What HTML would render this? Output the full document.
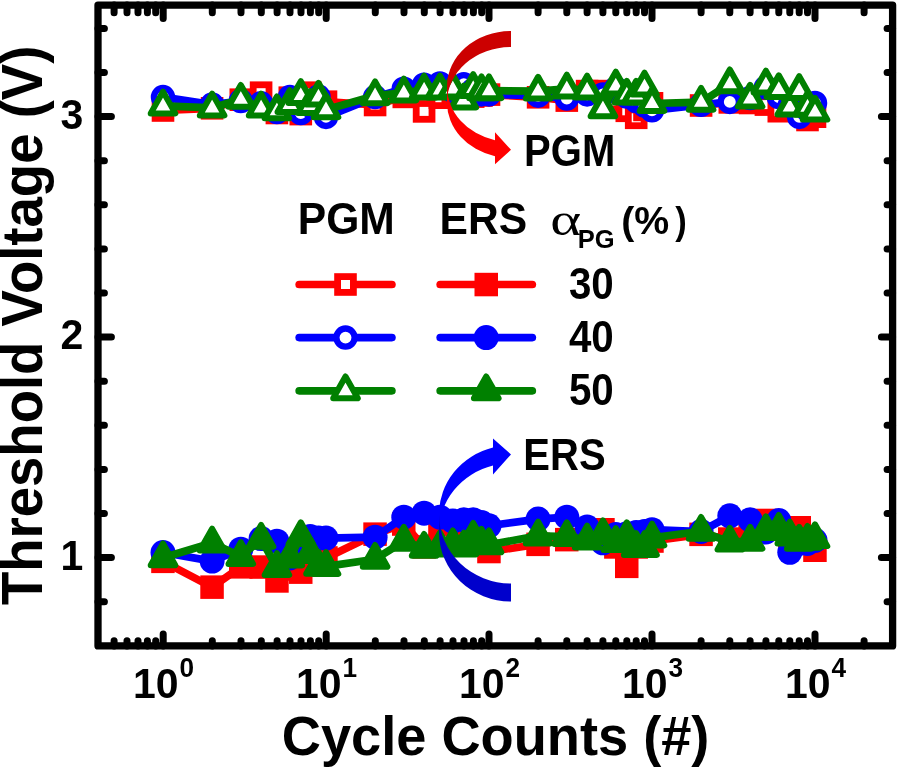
<!DOCTYPE html>
<html lang="en"><head><meta charset="utf-8"><title>Threshold Voltage vs Cycle Counts</title>
<style>html,body{margin:0;padding:0;background:#fff}svg{display:block}text{font-family:"Liberation Sans",sans-serif;font-weight:bold;fill:#000}</style></head><body>
<svg width="900" height="770" viewBox="0 0 900 770">
<rect width="900" height="770" fill="#fff"/>
<!-- ERS data -->
<g>
<polyline fill="none" stroke="#ff0000" stroke-width="7.7" stroke-linejoin="round" stroke-linecap="round" points="163,561.3 212.1,587.1 240.8,566.8 261.1,567.1 276.9,581 289.8,569 300.8,572.1 310.2,564.6 318.5,560.2 326,558 375.1,534.2 403.8,524 424.1,547 439.9,524.9 452.8,521.8 463.8,531.5 473.2,535.9 481.5,542.5 489,551.6 538.1,544.3 566.8,539.7 587.1,538.1 602.9,529.7 615.8,547 626.8,566.4 636.2,547 644.5,544.8 652,541 701.1,534.4 729.8,539 750.1,535.9 765.9,520.5 778.8,529.3 789.8,535.9 799.2,527.8 807.5,540.3 815,550.3"/>
<rect x="151.2" y="549.6" width="23.5" height="23.5" fill="#ff0000"/>
<rect x="200.3" y="575.4" width="23.5" height="23.5" fill="#ff0000"/>
<rect x="229" y="555.1" width="23.5" height="23.5" fill="#ff0000"/>
<rect x="249.4" y="555.3" width="23.5" height="23.5" fill="#ff0000"/>
<rect x="265.2" y="569.2" width="23.5" height="23.5" fill="#ff0000"/>
<rect x="278.1" y="557.3" width="23.5" height="23.5" fill="#ff0000"/>
<rect x="289" y="560.4" width="23.5" height="23.5" fill="#ff0000"/>
<rect x="298.5" y="552.9" width="23.5" height="23.5" fill="#ff0000"/>
<rect x="306.8" y="548.5" width="23.5" height="23.5" fill="#ff0000"/>
<rect x="314.2" y="546.2" width="23.5" height="23.5" fill="#ff0000"/>
<rect x="363.3" y="522.4" width="23.5" height="23.5" fill="#ff0000"/>
<rect x="392" y="512.3" width="23.5" height="23.5" fill="#ff0000"/>
<rect x="412.4" y="535.2" width="23.5" height="23.5" fill="#ff0000"/>
<rect x="428.2" y="513.1" width="23.5" height="23.5" fill="#ff0000"/>
<rect x="441.1" y="510" width="23.5" height="23.5" fill="#ff0000"/>
<rect x="452" y="519.8" width="23.5" height="23.5" fill="#ff0000"/>
<rect x="461.5" y="524.2" width="23.5" height="23.5" fill="#ff0000"/>
<rect x="469.8" y="530.8" width="23.5" height="23.5" fill="#ff0000"/>
<rect x="477.2" y="539.8" width="23.5" height="23.5" fill="#ff0000"/>
<rect x="526.3" y="532.6" width="23.5" height="23.5" fill="#ff0000"/>
<rect x="555" y="527.9" width="23.5" height="23.5" fill="#ff0000"/>
<rect x="575.4" y="526.4" width="23.5" height="23.5" fill="#ff0000"/>
<rect x="591.2" y="518" width="23.5" height="23.5" fill="#ff0000"/>
<rect x="604.1" y="535.2" width="23.5" height="23.5" fill="#ff0000"/>
<rect x="615" y="554.6" width="23.5" height="23.5" fill="#ff0000"/>
<rect x="624.5" y="535.2" width="23.5" height="23.5" fill="#ff0000"/>
<rect x="632.8" y="533" width="23.5" height="23.5" fill="#ff0000"/>
<rect x="640.2" y="529.3" width="23.5" height="23.5" fill="#ff0000"/>
<rect x="689.3" y="522.6" width="23.5" height="23.5" fill="#ff0000"/>
<rect x="718" y="527.3" width="23.5" height="23.5" fill="#ff0000"/>
<rect x="738.4" y="524.2" width="23.5" height="23.5" fill="#ff0000"/>
<rect x="754.2" y="508.7" width="23.5" height="23.5" fill="#ff0000"/>
<rect x="767.1" y="517.6" width="23.5" height="23.5" fill="#ff0000"/>
<rect x="778" y="524.2" width="23.5" height="23.5" fill="#ff0000"/>
<rect x="787.5" y="516" width="23.5" height="23.5" fill="#ff0000"/>
<rect x="795.8" y="528.6" width="23.5" height="23.5" fill="#ff0000"/>
<rect x="803.2" y="538.5" width="23.5" height="23.5" fill="#ff0000"/>
</g>
<g>
<polyline fill="none" stroke="#0000ff" stroke-width="7.7" stroke-linejoin="round" stroke-linecap="round" points="163,552.5 212.1,561.1 240.8,549.2 261.1,538.6 276.9,541.2 289.8,558 300.8,549.2 310.2,536.6 318.5,538.1 326,538.1 375.1,537.2 403.8,517.2 424.1,513.2 439.9,517.2 452.8,521.1 463.8,519.8 473.2,519.8 481.5,522.5 489,525.8 538.1,519.1 566.8,517.2 587.1,527.1 602.9,542.8 615.8,534.6 626.8,533.7 636.2,532.4 644.5,531.5 652,529.7 701.1,531.5 729.8,515.8 750.1,519.8 765.9,532 778.8,520.5 789.8,552.3 799.2,543.4 807.5,543.4 815,540.3"/>
<circle cx="163" cy="552.5" r="12.5" fill="#0000ff"/>
<circle cx="212.1" cy="561.1" r="12.5" fill="#0000ff"/>
<circle cx="240.8" cy="549.2" r="12.5" fill="#0000ff"/>
<circle cx="261.1" cy="538.6" r="12.5" fill="#0000ff"/>
<circle cx="276.9" cy="541.2" r="12.5" fill="#0000ff"/>
<circle cx="289.8" cy="558" r="12.5" fill="#0000ff"/>
<circle cx="300.8" cy="549.2" r="12.5" fill="#0000ff"/>
<circle cx="310.2" cy="536.6" r="12.5" fill="#0000ff"/>
<circle cx="318.5" cy="538.1" r="12.5" fill="#0000ff"/>
<circle cx="326" cy="538.1" r="12.5" fill="#0000ff"/>
<circle cx="375.1" cy="537.2" r="12.5" fill="#0000ff"/>
<circle cx="403.8" cy="517.2" r="12.5" fill="#0000ff"/>
<circle cx="424.1" cy="513.2" r="12.5" fill="#0000ff"/>
<circle cx="439.9" cy="517.2" r="12.5" fill="#0000ff"/>
<circle cx="452.8" cy="521.1" r="12.5" fill="#0000ff"/>
<circle cx="463.8" cy="519.8" r="12.5" fill="#0000ff"/>
<circle cx="473.2" cy="519.8" r="12.5" fill="#0000ff"/>
<circle cx="481.5" cy="522.5" r="12.5" fill="#0000ff"/>
<circle cx="489" cy="525.8" r="12.5" fill="#0000ff"/>
<circle cx="538.1" cy="519.1" r="12.5" fill="#0000ff"/>
<circle cx="566.8" cy="517.2" r="12.5" fill="#0000ff"/>
<circle cx="587.1" cy="527.1" r="12.5" fill="#0000ff"/>
<circle cx="602.9" cy="542.8" r="12.5" fill="#0000ff"/>
<circle cx="615.8" cy="534.6" r="12.5" fill="#0000ff"/>
<circle cx="626.8" cy="533.7" r="12.5" fill="#0000ff"/>
<circle cx="636.2" cy="532.4" r="12.5" fill="#0000ff"/>
<circle cx="644.5" cy="531.5" r="12.5" fill="#0000ff"/>
<circle cx="652" cy="529.7" r="12.5" fill="#0000ff"/>
<circle cx="701.1" cy="531.5" r="12.5" fill="#0000ff"/>
<circle cx="729.8" cy="515.8" r="12.5" fill="#0000ff"/>
<circle cx="750.1" cy="519.8" r="12.5" fill="#0000ff"/>
<circle cx="765.9" cy="532" r="12.5" fill="#0000ff"/>
<circle cx="778.8" cy="520.5" r="12.5" fill="#0000ff"/>
<circle cx="789.8" cy="552.3" r="12.5" fill="#0000ff"/>
<circle cx="799.2" cy="543.4" r="12.5" fill="#0000ff"/>
<circle cx="807.5" cy="543.4" r="12.5" fill="#0000ff"/>
<circle cx="815" cy="540.3" r="12.5" fill="#0000ff"/>
</g>
<g>
<polyline fill="none" stroke="#008000" stroke-width="7.7" stroke-linejoin="round" stroke-linecap="round" points="163,557.8 212.1,543 240.8,556.5 261.1,539.2 276.9,567.5 289.8,558 300.8,536.6 310.2,553.6 318.5,566.2 326,566.4 375.1,559.3 403.8,541.2 424.1,548.3 439.9,547 452.8,544.8 463.8,547 473.2,537.2 481.5,543.2 489,544.8 538.1,535.9 566.8,536.6 587.1,539.9 602.9,534.6 615.8,542.5 626.8,536.6 636.2,547.4 644.5,547.4 652,537.9 701.1,531.3 729.8,542.1 750.1,541.2 765.9,530.6 778.8,529.3 789.8,535.9 799.2,541.2 807.5,540.3 815,538.6"/>
<path d="M163 543.5L175.3 565.3L150.7 565.3Z" fill="#008000" stroke="#008000" stroke-width="6" stroke-linejoin="round"/>
<path d="M212.1 528.7L224.4 550.5L199.8 550.5Z" fill="#008000" stroke="#008000" stroke-width="6" stroke-linejoin="round"/>
<path d="M240.8 542.2L253.1 564L228.5 564Z" fill="#008000" stroke="#008000" stroke-width="6" stroke-linejoin="round"/>
<path d="M261.1 524.9L273.4 546.7L248.8 546.7Z" fill="#008000" stroke="#008000" stroke-width="6" stroke-linejoin="round"/>
<path d="M276.9 553.2L289.2 575L264.6 575Z" fill="#008000" stroke="#008000" stroke-width="6" stroke-linejoin="round"/>
<path d="M289.8 543.7L302.1 565.5L277.5 565.5Z" fill="#008000" stroke="#008000" stroke-width="6" stroke-linejoin="round"/>
<path d="M300.8 522.3L313.1 544.1L288.5 544.1Z" fill="#008000" stroke="#008000" stroke-width="6" stroke-linejoin="round"/>
<path d="M310.2 539.3L322.5 561.1L297.9 561.1Z" fill="#008000" stroke="#008000" stroke-width="6" stroke-linejoin="round"/>
<path d="M318.5 551.9L330.8 573.7L306.2 573.7Z" fill="#008000" stroke="#008000" stroke-width="6" stroke-linejoin="round"/>
<path d="M326 552.1L338.3 573.9L313.7 573.9Z" fill="#008000" stroke="#008000" stroke-width="6" stroke-linejoin="round"/>
<path d="M375.1 545L387.4 566.8L362.8 566.8Z" fill="#008000" stroke="#008000" stroke-width="6" stroke-linejoin="round"/>
<path d="M403.8 526.9L416.1 548.7L391.5 548.7Z" fill="#008000" stroke="#008000" stroke-width="6" stroke-linejoin="round"/>
<path d="M424.1 534L436.4 555.8L411.8 555.8Z" fill="#008000" stroke="#008000" stroke-width="6" stroke-linejoin="round"/>
<path d="M439.9 532.7L452.2 554.5L427.6 554.5Z" fill="#008000" stroke="#008000" stroke-width="6" stroke-linejoin="round"/>
<path d="M452.8 530.5L465.1 552.3L440.5 552.3Z" fill="#008000" stroke="#008000" stroke-width="6" stroke-linejoin="round"/>
<path d="M463.8 532.7L476.1 554.5L451.5 554.5Z" fill="#008000" stroke="#008000" stroke-width="6" stroke-linejoin="round"/>
<path d="M473.2 522.9L485.5 544.7L460.9 544.7Z" fill="#008000" stroke="#008000" stroke-width="6" stroke-linejoin="round"/>
<path d="M481.5 528.9L493.8 550.7L469.2 550.7Z" fill="#008000" stroke="#008000" stroke-width="6" stroke-linejoin="round"/>
<path d="M489 530.5L501.3 552.3L476.7 552.3Z" fill="#008000" stroke="#008000" stroke-width="6" stroke-linejoin="round"/>
<path d="M538.1 521.6L550.4 543.4L525.8 543.4Z" fill="#008000" stroke="#008000" stroke-width="6" stroke-linejoin="round"/>
<path d="M566.8 522.3L579.1 544.1L554.5 544.1Z" fill="#008000" stroke="#008000" stroke-width="6" stroke-linejoin="round"/>
<path d="M587.1 525.6L599.4 547.4L574.8 547.4Z" fill="#008000" stroke="#008000" stroke-width="6" stroke-linejoin="round"/>
<path d="M602.9 520.3L615.2 542.1L590.6 542.1Z" fill="#008000" stroke="#008000" stroke-width="6" stroke-linejoin="round"/>
<path d="M615.8 528.2L628.1 550L603.5 550Z" fill="#008000" stroke="#008000" stroke-width="6" stroke-linejoin="round"/>
<path d="M626.8 522.3L639.1 544.1L614.5 544.1Z" fill="#008000" stroke="#008000" stroke-width="6" stroke-linejoin="round"/>
<path d="M636.2 533.1L648.5 554.9L623.9 554.9Z" fill="#008000" stroke="#008000" stroke-width="6" stroke-linejoin="round"/>
<path d="M644.5 533.1L656.8 554.9L632.2 554.9Z" fill="#008000" stroke="#008000" stroke-width="6" stroke-linejoin="round"/>
<path d="M652 523.6L664.3 545.4L639.7 545.4Z" fill="#008000" stroke="#008000" stroke-width="6" stroke-linejoin="round"/>
<path d="M701.1 517L713.4 538.8L688.8 538.8Z" fill="#008000" stroke="#008000" stroke-width="6" stroke-linejoin="round"/>
<path d="M729.8 527.8L742.1 549.6L717.5 549.6Z" fill="#008000" stroke="#008000" stroke-width="6" stroke-linejoin="round"/>
<path d="M750.1 526.9L762.4 548.7L737.8 548.7Z" fill="#008000" stroke="#008000" stroke-width="6" stroke-linejoin="round"/>
<path d="M765.9 516.3L778.2 538.1L753.6 538.1Z" fill="#008000" stroke="#008000" stroke-width="6" stroke-linejoin="round"/>
<path d="M778.8 515L791.1 536.8L766.5 536.8Z" fill="#008000" stroke="#008000" stroke-width="6" stroke-linejoin="round"/>
<path d="M789.8 521.6L802.1 543.4L777.5 543.4Z" fill="#008000" stroke="#008000" stroke-width="6" stroke-linejoin="round"/>
<path d="M799.2 526.9L811.5 548.7L786.9 548.7Z" fill="#008000" stroke="#008000" stroke-width="6" stroke-linejoin="round"/>
<path d="M807.5 526L819.8 547.8L795.2 547.8Z" fill="#008000" stroke="#008000" stroke-width="6" stroke-linejoin="round"/>
<path d="M815 524.3L827.3 546.1L802.7 546.1Z" fill="#008000" stroke="#008000" stroke-width="6" stroke-linejoin="round"/>
</g>
<!-- PGM data -->
<g>
<polyline fill="none" stroke="#ff0000" stroke-width="7.7" stroke-linejoin="round" stroke-linecap="round" points="163,110.5 212.1,108.3 240.8,99.7 261.1,92.7 276.9,113 289.8,97.7 300.8,114.1 310.2,92.7 318.5,103.3 326,101.7 375.1,105 403.8,96.9 424.1,111.4 439.9,97.7 452.8,96.6 463.8,96.6 473.2,96.6 481.5,95.5 489,94.6 538.1,97.3 566.8,100.6 587.1,91.1 602.9,91.1 615.8,101 626.8,110.8 636.2,117.8 644.5,109.9 652,103.3 701.1,105.5 729.8,102.4 750.1,103 765.9,104.6 778.8,111.2 789.8,107.7 799.2,109.9 807.5,120 815,116.7"/>
<rect x="155.1" y="102.6" width="15.8" height="15.8" fill="#fff" stroke="#ff0000" stroke-width="6.8"/>
<rect x="204.2" y="100.4" width="15.8" height="15.8" fill="#fff" stroke="#ff0000" stroke-width="6.8"/>
<rect x="232.9" y="91.8" width="15.8" height="15.8" fill="#fff" stroke="#ff0000" stroke-width="6.8"/>
<rect x="253.2" y="84.8" width="15.8" height="15.8" fill="#fff" stroke="#ff0000" stroke-width="6.8"/>
<rect x="269" y="105.1" width="15.8" height="15.8" fill="#fff" stroke="#ff0000" stroke-width="6.8"/>
<rect x="281.9" y="89.8" width="15.8" height="15.8" fill="#fff" stroke="#ff0000" stroke-width="6.8"/>
<rect x="292.9" y="106.2" width="15.8" height="15.8" fill="#fff" stroke="#ff0000" stroke-width="6.8"/>
<rect x="302.3" y="84.8" width="15.8" height="15.8" fill="#fff" stroke="#ff0000" stroke-width="6.8"/>
<rect x="310.6" y="95.4" width="15.8" height="15.8" fill="#fff" stroke="#ff0000" stroke-width="6.8"/>
<rect x="318.1" y="93.8" width="15.8" height="15.8" fill="#fff" stroke="#ff0000" stroke-width="6.8"/>
<rect x="367.2" y="97.1" width="15.8" height="15.8" fill="#fff" stroke="#ff0000" stroke-width="6.8"/>
<rect x="395.9" y="89" width="15.8" height="15.8" fill="#fff" stroke="#ff0000" stroke-width="6.8"/>
<rect x="416.2" y="103.5" width="15.8" height="15.8" fill="#fff" stroke="#ff0000" stroke-width="6.8"/>
<rect x="432" y="89.8" width="15.8" height="15.8" fill="#fff" stroke="#ff0000" stroke-width="6.8"/>
<rect x="444.9" y="88.7" width="15.8" height="15.8" fill="#fff" stroke="#ff0000" stroke-width="6.8"/>
<rect x="455.9" y="88.7" width="15.8" height="15.8" fill="#fff" stroke="#ff0000" stroke-width="6.8"/>
<rect x="465.3" y="88.7" width="15.8" height="15.8" fill="#fff" stroke="#ff0000" stroke-width="6.8"/>
<rect x="473.6" y="87.6" width="15.8" height="15.8" fill="#fff" stroke="#ff0000" stroke-width="6.8"/>
<rect x="481.1" y="86.7" width="15.8" height="15.8" fill="#fff" stroke="#ff0000" stroke-width="6.8"/>
<rect x="530.2" y="89.4" width="15.8" height="15.8" fill="#fff" stroke="#ff0000" stroke-width="6.8"/>
<rect x="558.9" y="92.7" width="15.8" height="15.8" fill="#fff" stroke="#ff0000" stroke-width="6.8"/>
<rect x="579.2" y="83.2" width="15.8" height="15.8" fill="#fff" stroke="#ff0000" stroke-width="6.8"/>
<rect x="595" y="83.2" width="15.8" height="15.8" fill="#fff" stroke="#ff0000" stroke-width="6.8"/>
<rect x="607.9" y="93.1" width="15.8" height="15.8" fill="#fff" stroke="#ff0000" stroke-width="6.8"/>
<rect x="618.9" y="102.9" width="15.8" height="15.8" fill="#fff" stroke="#ff0000" stroke-width="6.8"/>
<rect x="628.3" y="109.9" width="15.8" height="15.8" fill="#fff" stroke="#ff0000" stroke-width="6.8"/>
<rect x="636.6" y="102" width="15.8" height="15.8" fill="#fff" stroke="#ff0000" stroke-width="6.8"/>
<rect x="644.1" y="95.4" width="15.8" height="15.8" fill="#fff" stroke="#ff0000" stroke-width="6.8"/>
<rect x="693.2" y="97.6" width="15.8" height="15.8" fill="#fff" stroke="#ff0000" stroke-width="6.8"/>
<rect x="721.9" y="94.5" width="15.8" height="15.8" fill="#fff" stroke="#ff0000" stroke-width="6.8"/>
<rect x="742.2" y="95.1" width="15.8" height="15.8" fill="#fff" stroke="#ff0000" stroke-width="6.8"/>
<rect x="758" y="96.7" width="15.8" height="15.8" fill="#fff" stroke="#ff0000" stroke-width="6.8"/>
<rect x="770.9" y="103.3" width="15.8" height="15.8" fill="#fff" stroke="#ff0000" stroke-width="6.8"/>
<rect x="781.9" y="99.8" width="15.8" height="15.8" fill="#fff" stroke="#ff0000" stroke-width="6.8"/>
<rect x="791.3" y="102" width="15.8" height="15.8" fill="#fff" stroke="#ff0000" stroke-width="6.8"/>
<rect x="799.6" y="112.1" width="15.8" height="15.8" fill="#fff" stroke="#ff0000" stroke-width="6.8"/>
<rect x="807.1" y="108.8" width="15.8" height="15.8" fill="#fff" stroke="#ff0000" stroke-width="6.8"/>
</g>
<g>
<polyline fill="none" stroke="#0000ff" stroke-width="7.7" stroke-linejoin="round" stroke-linecap="round" points="163,97.1 212.1,104.6 240.8,101 261.1,103.3 276.9,112.1 289.8,97.1 300.8,113 310.2,105.5 318.5,96.6 326,116.9 375.1,97.1 403.8,88.7 424.1,84.7 439.9,83.4 452.8,90.9 463.8,84.3 473.2,90 481.5,94.4 489,94.4 538.1,95.7 566.8,98.6 587.1,94.4 602.9,94.4 615.8,88.5 626.8,96.6 636.2,101 644.5,105.5 652,110.3 701.1,104.8 729.8,101.9 750.1,98 765.9,87.4 778.8,97.1 789.8,105.5 799.2,116.9 807.5,109.9 815,103"/>
<circle cx="163" cy="97.1" r="9.1" fill="#fff" stroke="#0000ff" stroke-width="6.3"/>
<circle cx="212.1" cy="104.6" r="9.1" fill="#fff" stroke="#0000ff" stroke-width="6.3"/>
<circle cx="240.8" cy="101" r="9.1" fill="#fff" stroke="#0000ff" stroke-width="6.3"/>
<circle cx="261.1" cy="103.3" r="9.1" fill="#fff" stroke="#0000ff" stroke-width="6.3"/>
<circle cx="276.9" cy="112.1" r="9.1" fill="#fff" stroke="#0000ff" stroke-width="6.3"/>
<circle cx="289.8" cy="97.1" r="9.1" fill="#fff" stroke="#0000ff" stroke-width="6.3"/>
<circle cx="300.8" cy="113" r="9.1" fill="#fff" stroke="#0000ff" stroke-width="6.3"/>
<circle cx="310.2" cy="105.5" r="9.1" fill="#fff" stroke="#0000ff" stroke-width="6.3"/>
<circle cx="318.5" cy="96.6" r="9.1" fill="#fff" stroke="#0000ff" stroke-width="6.3"/>
<circle cx="326" cy="116.9" r="9.1" fill="#fff" stroke="#0000ff" stroke-width="6.3"/>
<circle cx="375.1" cy="97.1" r="9.1" fill="#fff" stroke="#0000ff" stroke-width="6.3"/>
<circle cx="403.8" cy="88.7" r="9.1" fill="#fff" stroke="#0000ff" stroke-width="6.3"/>
<circle cx="424.1" cy="84.7" r="9.1" fill="#fff" stroke="#0000ff" stroke-width="6.3"/>
<circle cx="439.9" cy="83.4" r="9.1" fill="#fff" stroke="#0000ff" stroke-width="6.3"/>
<circle cx="452.8" cy="90.9" r="9.1" fill="#fff" stroke="#0000ff" stroke-width="6.3"/>
<circle cx="463.8" cy="84.3" r="9.1" fill="#fff" stroke="#0000ff" stroke-width="6.3"/>
<circle cx="473.2" cy="90" r="9.1" fill="#fff" stroke="#0000ff" stroke-width="6.3"/>
<circle cx="481.5" cy="94.4" r="9.1" fill="#fff" stroke="#0000ff" stroke-width="6.3"/>
<circle cx="489" cy="94.4" r="9.1" fill="#fff" stroke="#0000ff" stroke-width="6.3"/>
<circle cx="538.1" cy="95.7" r="9.1" fill="#fff" stroke="#0000ff" stroke-width="6.3"/>
<circle cx="566.8" cy="98.6" r="9.1" fill="#fff" stroke="#0000ff" stroke-width="6.3"/>
<circle cx="587.1" cy="94.4" r="9.1" fill="#fff" stroke="#0000ff" stroke-width="6.3"/>
<circle cx="602.9" cy="94.4" r="9.1" fill="#fff" stroke="#0000ff" stroke-width="6.3"/>
<circle cx="615.8" cy="88.5" r="9.1" fill="#fff" stroke="#0000ff" stroke-width="6.3"/>
<circle cx="626.8" cy="96.6" r="9.1" fill="#fff" stroke="#0000ff" stroke-width="6.3"/>
<circle cx="636.2" cy="101" r="9.1" fill="#fff" stroke="#0000ff" stroke-width="6.3"/>
<circle cx="644.5" cy="105.5" r="9.1" fill="#fff" stroke="#0000ff" stroke-width="6.3"/>
<circle cx="652" cy="110.3" r="9.1" fill="#fff" stroke="#0000ff" stroke-width="6.3"/>
<circle cx="701.1" cy="104.8" r="9.1" fill="#fff" stroke="#0000ff" stroke-width="6.3"/>
<circle cx="729.8" cy="101.9" r="9.1" fill="#fff" stroke="#0000ff" stroke-width="6.3"/>
<circle cx="750.1" cy="98" r="9.1" fill="#fff" stroke="#0000ff" stroke-width="6.3"/>
<circle cx="765.9" cy="87.4" r="9.1" fill="#fff" stroke="#0000ff" stroke-width="6.3"/>
<circle cx="778.8" cy="97.1" r="9.1" fill="#fff" stroke="#0000ff" stroke-width="6.3"/>
<circle cx="789.8" cy="105.5" r="9.1" fill="#fff" stroke="#0000ff" stroke-width="6.3"/>
<circle cx="799.2" cy="116.9" r="9.1" fill="#fff" stroke="#0000ff" stroke-width="6.3"/>
<circle cx="807.5" cy="109.9" r="9.1" fill="#fff" stroke="#0000ff" stroke-width="6.3"/>
<circle cx="815" cy="103" r="9.1" fill="#fff" stroke="#0000ff" stroke-width="6.3"/>
</g>
<g>
<polyline fill="none" stroke="#008000" stroke-width="7.7" stroke-linejoin="round" stroke-linecap="round" points="163,105.9 212.1,107.9 240.8,99.3 261.1,107.9 276.9,110.8 289.8,104.4 300.8,95.5 310.2,105.5 318.5,97.1 326,109.7 375.1,95.7 403.8,92.9 424.1,90 439.9,90 452.8,88.9 463.8,99.9 473.2,88.5 481.5,90.7 489,90.7 538.1,91.1 566.8,88.9 587.1,90 602.9,108.8 615.8,86 626.8,95.1 636.2,95.1 644.5,86.9 652,103.5 701.1,102.2 729.8,83.8 750.1,99.1 765.9,84.9 778.8,89.6 789.8,107 799.2,90.5 807.5,107.2 815,112.1"/>
<path d="M163 91.6L175.3 113.4L150.7 113.4Z" fill="#fff" stroke="#008000" stroke-width="6" stroke-linejoin="round"/>
<path d="M212.1 93.6L224.4 115.4L199.8 115.4Z" fill="#fff" stroke="#008000" stroke-width="6" stroke-linejoin="round"/>
<path d="M240.8 85L253.1 106.8L228.5 106.8Z" fill="#fff" stroke="#008000" stroke-width="6" stroke-linejoin="round"/>
<path d="M261.1 93.6L273.4 115.4L248.8 115.4Z" fill="#fff" stroke="#008000" stroke-width="6" stroke-linejoin="round"/>
<path d="M276.9 96.5L289.2 118.3L264.6 118.3Z" fill="#fff" stroke="#008000" stroke-width="6" stroke-linejoin="round"/>
<path d="M289.8 90.1L302.1 111.9L277.5 111.9Z" fill="#fff" stroke="#008000" stroke-width="6" stroke-linejoin="round"/>
<path d="M300.8 81.2L313.1 103L288.5 103Z" fill="#fff" stroke="#008000" stroke-width="6" stroke-linejoin="round"/>
<path d="M310.2 91.2L322.5 113L297.9 113Z" fill="#fff" stroke="#008000" stroke-width="6" stroke-linejoin="round"/>
<path d="M318.5 82.8L330.8 104.6L306.2 104.6Z" fill="#fff" stroke="#008000" stroke-width="6" stroke-linejoin="round"/>
<path d="M326 95.4L338.3 117.2L313.7 117.2Z" fill="#fff" stroke="#008000" stroke-width="6" stroke-linejoin="round"/>
<path d="M375.1 81.4L387.4 103.2L362.8 103.2Z" fill="#fff" stroke="#008000" stroke-width="6" stroke-linejoin="round"/>
<path d="M403.8 78.6L416.1 100.4L391.5 100.4Z" fill="#fff" stroke="#008000" stroke-width="6" stroke-linejoin="round"/>
<path d="M424.1 75.7L436.4 97.5L411.8 97.5Z" fill="#fff" stroke="#008000" stroke-width="6" stroke-linejoin="round"/>
<path d="M439.9 75.7L452.2 97.5L427.6 97.5Z" fill="#fff" stroke="#008000" stroke-width="6" stroke-linejoin="round"/>
<path d="M452.8 74.6L465.1 96.4L440.5 96.4Z" fill="#fff" stroke="#008000" stroke-width="6" stroke-linejoin="round"/>
<path d="M463.8 85.6L476.1 107.4L451.5 107.4Z" fill="#fff" stroke="#008000" stroke-width="6" stroke-linejoin="round"/>
<path d="M473.2 74.2L485.5 96L460.9 96Z" fill="#fff" stroke="#008000" stroke-width="6" stroke-linejoin="round"/>
<path d="M481.5 76.4L493.8 98.2L469.2 98.2Z" fill="#fff" stroke="#008000" stroke-width="6" stroke-linejoin="round"/>
<path d="M489 76.4L501.3 98.2L476.7 98.2Z" fill="#fff" stroke="#008000" stroke-width="6" stroke-linejoin="round"/>
<path d="M538.1 76.8L550.4 98.6L525.8 98.6Z" fill="#fff" stroke="#008000" stroke-width="6" stroke-linejoin="round"/>
<path d="M566.8 74.6L579.1 96.4L554.5 96.4Z" fill="#fff" stroke="#008000" stroke-width="6" stroke-linejoin="round"/>
<path d="M587.1 75.7L599.4 97.5L574.8 97.5Z" fill="#fff" stroke="#008000" stroke-width="6" stroke-linejoin="round"/>
<path d="M602.9 94.5L615.2 116.3L590.6 116.3Z" fill="#fff" stroke="#008000" stroke-width="6" stroke-linejoin="round"/>
<path d="M615.8 71.7L628.1 93.5L603.5 93.5Z" fill="#fff" stroke="#008000" stroke-width="6" stroke-linejoin="round"/>
<path d="M626.8 80.8L639.1 102.6L614.5 102.6Z" fill="#fff" stroke="#008000" stroke-width="6" stroke-linejoin="round"/>
<path d="M636.2 80.8L648.5 102.6L623.9 102.6Z" fill="#fff" stroke="#008000" stroke-width="6" stroke-linejoin="round"/>
<path d="M644.5 72.6L656.8 94.4L632.2 94.4Z" fill="#fff" stroke="#008000" stroke-width="6" stroke-linejoin="round"/>
<path d="M652 89.2L664.3 111L639.7 111Z" fill="#fff" stroke="#008000" stroke-width="6" stroke-linejoin="round"/>
<path d="M701.1 87.9L713.4 109.7L688.8 109.7Z" fill="#fff" stroke="#008000" stroke-width="6" stroke-linejoin="round"/>
<path d="M729.8 69.5L742.1 91.3L717.5 91.3Z" fill="#fff" stroke="#008000" stroke-width="6" stroke-linejoin="round"/>
<path d="M750.1 84.8L762.4 106.6L737.8 106.6Z" fill="#fff" stroke="#008000" stroke-width="6" stroke-linejoin="round"/>
<path d="M765.9 70.6L778.2 92.4L753.6 92.4Z" fill="#fff" stroke="#008000" stroke-width="6" stroke-linejoin="round"/>
<path d="M778.8 75.3L791.1 97.1L766.5 97.1Z" fill="#fff" stroke="#008000" stroke-width="6" stroke-linejoin="round"/>
<path d="M789.8 92.7L802.1 114.5L777.5 114.5Z" fill="#fff" stroke="#008000" stroke-width="6" stroke-linejoin="round"/>
<path d="M799.2 76.2L811.5 98L786.9 98Z" fill="#fff" stroke="#008000" stroke-width="6" stroke-linejoin="round"/>
<path d="M807.5 92.9L819.8 114.7L795.2 114.7Z" fill="#fff" stroke="#008000" stroke-width="6" stroke-linejoin="round"/>
<path d="M815 97.8L827.3 119.6L802.7 119.6Z" fill="#fff" stroke="#008000" stroke-width="6" stroke-linejoin="round"/>
</g>
<g stroke="#000" fill="none" stroke-linecap="round">
<rect x="98" y="5.1" width="794.6" height="640.8" stroke-width="7.3" stroke-linejoin="round"/>
<path stroke-width="7" d="M114.1 645.9V640.8M114.1 5.1V12.7M127 645.9V640.8M127 5.1V12.7M138 645.9V640.8M138 5.1V12.7M147.4 645.9V640.8M147.4 5.1V12.7M155.7 645.9V640.8M155.7 5.1V12.7M163.2 645.9V633.9M163.2 5.1V18.5M212.3 645.9V640.8M212.3 5.1V12.7M241 645.9V640.8M241 5.1V12.7M261.3 645.9V640.8M261.3 5.1V12.7M277.1 645.9V640.8M277.1 5.1V12.7M290 645.9V640.8M290 5.1V12.7M301 645.9V640.8M301 5.1V12.7M310.4 645.9V640.8M310.4 5.1V12.7M318.7 645.9V640.8M318.7 5.1V12.7M326.2 645.9V633.9M326.2 5.1V18.5M375.3 645.9V640.8M375.3 5.1V12.7M404 645.9V640.8M404 5.1V12.7M424.3 645.9V640.8M424.3 5.1V12.7M440.1 645.9V640.8M440.1 5.1V12.7M453 645.9V640.8M453 5.1V12.7M464 645.9V640.8M464 5.1V12.7M473.4 645.9V640.8M473.4 5.1V12.7M481.7 645.9V640.8M481.7 5.1V12.7M489 645.9V633.9M489 5.1V18.5M538.1 645.9V640.8M538.1 5.1V12.7M566.8 645.9V640.8M566.8 5.1V12.7M587.1 645.9V640.8M587.1 5.1V12.7M602.9 645.9V640.8M602.9 5.1V12.7M615.8 645.9V640.8M615.8 5.1V12.7M626.8 645.9V640.8M626.8 5.1V12.7M636.2 645.9V640.8M636.2 5.1V12.7M644.5 645.9V640.8M644.5 5.1V12.7M652 645.9V633.9M652 5.1V18.5M701.1 645.9V640.8M701.1 5.1V12.7M729.8 645.9V640.8M729.8 5.1V12.7M750.1 645.9V640.8M750.1 5.1V12.7M765.9 645.9V640.8M765.9 5.1V12.7M778.8 645.9V640.8M778.8 5.1V12.7M789.8 645.9V640.8M789.8 5.1V12.7M799.2 645.9V640.8M799.2 5.1V12.7M807.5 645.9V640.8M807.5 5.1V12.7M815 645.9V633.9M815 5.1V18.5M864.1 645.9V640.8M864.1 5.1V12.7M98 601.7H104.4M892.6 601.7H887.1M98 557.6H111.4M892.6 557.6H881.4M98 513.5H104.4M892.6 513.5H887.1M98 469.4H104.4M892.6 469.4H887.1M98 425.3H104.4M892.6 425.3H887.1M98 381.2H104.4M892.6 381.2H887.1M98 337.1H111.4M892.6 337.1H881.4M98 293H104.4M892.6 293H887.1M98 248.9H104.4M892.6 248.9H887.1M98 204.8H104.4M892.6 204.8H887.1M98 160.7H104.4M892.6 160.7H887.1M98 116.6H111.4M892.6 116.6H881.4M98 72.5H104.4M892.6 72.5H887.1M98 28.4H104.4M892.6 28.4H887.1"/>
</g>
<text transform="translate(83.2 569.7) scale(0.953 1)" font-size="43" text-anchor="end">1</text>
<text transform="translate(83.2 349.2) scale(0.953 1)" font-size="43" text-anchor="end">2</text>
<text transform="translate(83.2 128.7) scale(0.953 1)" font-size="43" text-anchor="end">3</text>
<text transform="translate(133 698) scale(0.953 1)" font-size="43">10<tspan font-size="27.5" dy="-21.2" dx="1">0</tspan></text>
<text transform="translate(296 698) scale(0.953 1)" font-size="43">10<tspan font-size="27.5" dy="-21.2" dx="1">1</tspan></text>
<text transform="translate(459 698) scale(0.953 1)" font-size="43">10<tspan font-size="27.5" dy="-21.2" dx="1">2</tspan></text>
<text transform="translate(622 698) scale(0.953 1)" font-size="43">10<tspan font-size="27.5" dy="-21.2" dx="1">3</tspan></text>
<text transform="translate(785 698) scale(0.953 1)" font-size="43">10<tspan font-size="27.5" dy="-21.2" dx="1">4</tspan></text>
<text transform="translate(495.6 755.4) scale(0.963 1)" font-size="56.3" text-anchor="middle">Cycle Counts (#)</text>
<text transform="translate(42.1 325.4) rotate(-90) scale(0.957 1)" font-size="57" text-anchor="middle">Threshold Voltage (V)</text>
<text transform="translate(346.3 233.7) scale(0.977 1)" font-size="43.6" text-anchor="middle">PGM</text>
<text transform="translate(483.4 233.7) scale(0.977 1)" font-size="43.6" text-anchor="middle">ERS</text>
<text transform="translate(550.2 234.5) scale(1.27 1)" font-size="46.5" style="font-family:'Liberation Serif','DejaVu Serif',serif;font-weight:normal">α</text>
<text transform="translate(577.8 248) scale(1.0 1)" font-size="25.5" text-anchor="start">PG</text>
<text transform="translate(621.3 233.8) scale(1.02 1)" font-size="38.5" text-anchor="start">(%</text>
<text transform="translate(675.2 233.8) scale(0.9 1)" font-size="38.5" text-anchor="start">)</text>
<line x1="299.2" y1="284.5" x2="391.9" y2="284.5" stroke="#ff0000" stroke-width="7.7" stroke-linecap="round"/><rect x="337.6" y="276.6" width="15.8" height="15.8" fill="#fff" stroke="#ff0000" stroke-width="6.8"/>
<line x1="440.2" y1="284.5" x2="532.3" y2="284.5" stroke="#ff0000" stroke-width="7.7" stroke-linecap="round"/><rect x="474.5" y="272.8" width="23.5" height="23.5" fill="#ff0000"/>
<text transform="translate(568.9 298.6) scale(0.925 1)" font-size="43.6" text-anchor="start">30</text>
<line x1="299.2" y1="337.6" x2="391.9" y2="337.6" stroke="#0000ff" stroke-width="7.7" stroke-linecap="round"/><circle cx="345.5" cy="337.6" r="9.1" fill="#fff" stroke="#0000ff" stroke-width="6.3"/>
<line x1="440.2" y1="337.6" x2="532.3" y2="337.6" stroke="#0000ff" stroke-width="7.7" stroke-linecap="round"/><circle cx="486.2" cy="337.6" r="12.5" fill="#0000ff"/>
<text transform="translate(568.9 351.7) scale(0.925 1)" font-size="43.6" text-anchor="start">40</text>
<line x1="299.2" y1="390.8" x2="391.9" y2="390.8" stroke="#008000" stroke-width="7.7" stroke-linecap="round"/><path d="M345.5 376.5L357.8 398.3L333.2 398.3Z" fill="#fff" stroke="#008000" stroke-width="6" stroke-linejoin="round"/>
<line x1="440.2" y1="390.8" x2="532.3" y2="390.8" stroke="#008000" stroke-width="7.7" stroke-linecap="round"/><path d="M486.2 376.5L498.6 398.3L473.9 398.3Z" fill="#008000" stroke="#008000" stroke-width="6" stroke-linejoin="round"/>
<text transform="translate(568.9 404.9) scale(0.925 1)" font-size="43.6" text-anchor="start">50</text>
<!-- arrows -->
<path d="M447 86.5A64 55.5 0 0 0 495 140.2L495 132.2L511 149.8L495 164.2L495 156.2A64 55.5 0 0 1 447 102.5Z" fill="#ff0000"/><path d="M511 31A64 55.5 0 0 0 447 86.5L447 102.5A64 55.5 0 0 1 511 47Z" fill="#cc0000"/>
<path d="M439 532.4A72 69.1 0 0 1 493 465.5L493 474.5L511 454.5L493 438.5L493 447.5A72 69.1 0 0 0 439 514.4Z" fill="#0000ff"/><path d="M511 601.5A72 69.1 0 0 1 439 532.4L439 514.4A72 69.1 0 0 0 511 583.5Z" fill="#0000cc"/>
<text transform="translate(569.7 166.3) scale(0.918 1)" font-size="43.6" text-anchor="middle">PGM</text>
<text transform="translate(564.5 470.1) scale(0.918 1)" font-size="43.6" text-anchor="middle">ERS</text>
</svg></body></html>
